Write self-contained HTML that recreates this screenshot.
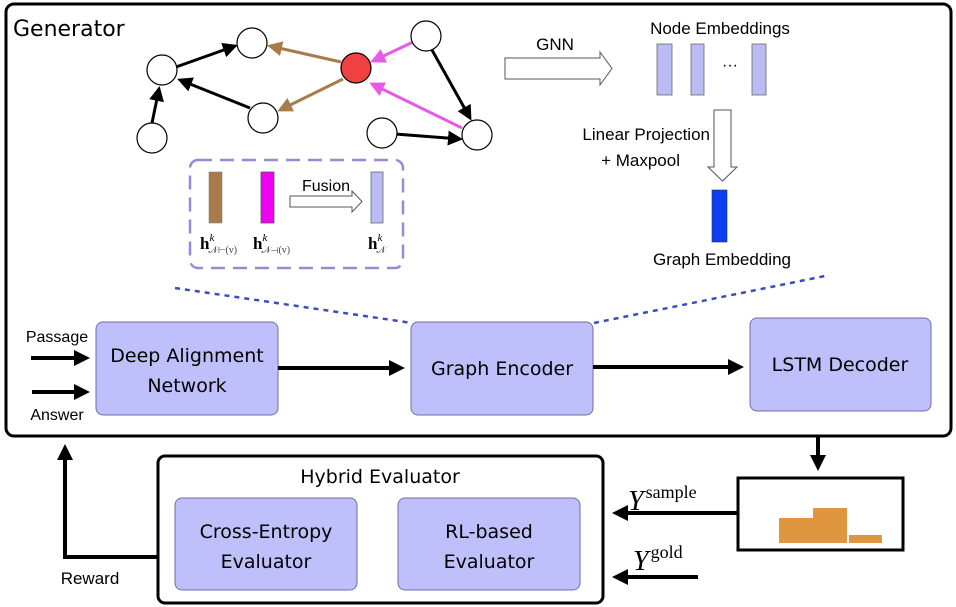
<!DOCTYPE html>
<html><head><meta charset="utf-8"><style>
html,body{margin:0;padding:0;background:#fff;}
svg{display:block;}
.s{font-family:"Liberation Sans",sans-serif;}
.m{font-family:"DejaVu Sans","Liberation Sans",sans-serif;}
.t{font-family:"Liberation Serif",serif;}
</style></head><body>
<svg width="956" height="607" viewBox="0 0 956 607" xmlns="http://www.w3.org/2000/svg">
<defs>
<marker id="ab" markerWidth="4" markerHeight="4" refX="3" refY="2" orient="auto" markerUnits="strokeWidth"><path d="M0,0 L4,2 L0,4 z" fill="#000"/></marker>
<marker id="ak" markerWidth="5" markerHeight="5" refX="4" refY="2.5" orient="auto"><path d="M0,0 L5,2.5 L0,5 z" fill="#000"/></marker>
<marker id="abr" markerWidth="5" markerHeight="5" refX="4" refY="2.5" orient="auto"><path d="M0,0 L5,2.5 L0,5 z" fill="#a87c4a"/></marker>
<marker id="amg" markerWidth="5" markerHeight="5" refX="4" refY="2.5" orient="auto"><path d="M0,0 L5,2.5 L0,5 z" fill="#e75ae8"/></marker>
</defs>
<rect x="6" y="4" width="945" height="432" rx="8" fill="none" stroke="#000" stroke-width="3"/>
<text x="13" y="36" class="m" font-size="22">Generator</text>
<g stroke-width="3" fill="none">
<line x1="152" y1="123" x2="159" y2="89" stroke="#000" marker-end="url(#ak)"/>
<line x1="176" y1="67" x2="235" y2="46" stroke="#000" marker-end="url(#ak)"/>
<line x1="250" y1="108" x2="180" y2="80" stroke="#000" marker-end="url(#ak)"/>
<line x1="341" y1="62" x2="270" y2="46" stroke="#a87c4a" marker-end="url(#abr)"/>
<line x1="343" y1="79" x2="280" y2="110" stroke="#a87c4a" marker-end="url(#abr)"/>
<line x1="413" y1="42" x2="373" y2="61" stroke="#e75ae8" marker-end="url(#amg)"/>
<line x1="462" y1="128" x2="372" y2="84" stroke="#e75ae8" marker-end="url(#amg)"/>
<line x1="432" y1="50" x2="470" y2="118" stroke="#000" marker-end="url(#ak)"/>
<line x1="395" y1="134" x2="460" y2="139" stroke="#000" marker-end="url(#ak)"/>
</g>
<g stroke="#000" stroke-width="1.2" fill="#fff">
<circle cx="162" cy="70" r="15"/>
<circle cx="252" cy="43" r="15"/>
<circle cx="356" cy="68" r="15" fill="#f04040"/>
<circle cx="426" cy="36" r="15"/>
<circle cx="263" cy="118" r="15"/>
<circle cx="152" cy="138" r="15"/>
<circle cx="382" cy="133" r="15"/>
<circle cx="477" cy="135" r="15"/>
</g>
<rect x="190" y="160" width="213" height="108" rx="8" fill="none" stroke="#9b87d6" stroke-width="2.5" stroke-dasharray="14,8"/>
<rect x="209" y="172" width="13" height="51" fill="#a87c4a" stroke="#777" stroke-width="0.5"/>
<rect x="261" y="172" width="13" height="51" fill="#f000f0" stroke="#555" stroke-width="0.8"/>
<rect x="371" y="172" width="12" height="51" fill="#bcbcf5" stroke="#666" stroke-width="0.8"/>
<path d="M290,196 L352,196 L352,191 L362,201.5 L352,212 L352,207 L290,207 z" fill="#fff" stroke="#555" stroke-width="1"/>
<text x="326" y="191" class="s" font-size="16" text-anchor="middle">Fusion</text>
<text x="200" y="249" class="t" font-size="17" font-weight="bold">h<tspan font-size="11" dy="-8" font-style="italic" font-weight="normal">k</tspan><tspan font-size="10" dx="-6" dy="12" font-weight="normal" fill="#444">𝒩⊢(v)</tspan></text>
<text x="253" y="249" class="t" font-size="17" font-weight="bold">h<tspan font-size="11" dy="-8" font-style="italic" font-weight="normal">k</tspan><tspan font-size="10" dx="-6" dy="12" font-weight="normal" fill="#444">𝒩⊣(v)</tspan></text>
<text x="368" y="249" class="t" font-size="17" font-weight="bold">h<tspan font-size="11" dy="-8" font-style="italic" font-weight="normal">k</tspan><tspan font-size="10" dx="-6" dy="12" font-weight="normal" fill="#444">𝒩</tspan></text>
<text x="555" y="50" class="s" font-size="17" text-anchor="middle">GNN</text>
<path d="M505,58 L600,58 L600,52 L612,68.5 L600,85 L600,79 L505,79 z" fill="#fff" stroke="#555" stroke-width="1"/>
<text x="720" y="34" class="s" font-size="17" text-anchor="middle">Node Embeddings</text>
<rect x="657" y="44" width="15" height="51" fill="#bcbcf5" stroke="#666" stroke-width="0.8"/>
<rect x="691" y="44" width="13" height="51" fill="#bcbcf5" stroke="#666" stroke-width="0.8"/>
<rect x="752" y="44" width="14" height="51" fill="#bcbcf5" stroke="#666" stroke-width="0.8"/>
<text x="730" y="70" class="s" font-size="16" text-anchor="middle">···</text>
<path d="M714,110 L731,110 L731,167 L737,167 L722.5,181 L708,167 L714,167 z" fill="#fff" stroke="#555" stroke-width="1"/>
<text x="710" y="140" class="s" font-size="17" text-anchor="end">Linear Projection</text>
<text x="680" y="166" class="s" font-size="17" text-anchor="end">+ Maxpool</text>
<rect x="712" y="190" width="15" height="52" fill="#0b3ef0" stroke="#333" stroke-width="0.6"/>
<text x="722" y="265" class="s" font-size="17" text-anchor="middle">Graph Embedding</text>
<line x1="175" y1="288" x2="412" y2="323" stroke="#3b4db8" stroke-width="2.5" stroke-dasharray="5,5"/>
<line x1="594" y1="323" x2="825" y2="276" stroke="#3b4db8" stroke-width="2.5" stroke-dasharray="5,5"/>
<g fill="#bfbffb" stroke="#6d6da8" stroke-width="1">
<rect x="96" y="322" width="182" height="93" rx="7"/>
<rect x="411" y="322" width="182" height="93" rx="7"/>
<rect x="750" y="318" width="181" height="93" rx="7"/>
<rect x="175" y="498" width="182" height="92" rx="7"/>
<rect x="398" y="498" width="182" height="92" rx="7"/>
</g>
<g class="m" font-size="19" text-anchor="middle">
<text x="187" y="362">Deep Alignment</text>
<text x="187" y="392">Network</text>
<text x="502" y="375">Graph Encoder</text>
<text x="840" y="371">LSTM Decoder</text>
<text x="266" y="538">Cross-Entropy</text>
<text x="266" y="568">Evaluator</text>
<text x="489" y="538">RL-based</text>
<text x="489" y="568">Evaluator</text>
<text x="380" y="483">Hybrid Evaluator</text>
</g>
<text x="57" y="342" class="s" font-size="16" text-anchor="middle">Passage</text>
<text x="57" y="420" class="s" font-size="16" text-anchor="middle">Answer</text>
<g stroke="#000" stroke-width="4" fill="none">
<line x1="31" y1="358" x2="86" y2="358" marker-end="url(#ab)"/>
<line x1="32" y1="392" x2="86" y2="392" marker-end="url(#ab)"/>
<line x1="278" y1="368" x2="401" y2="368" marker-end="url(#ab)"/>
<line x1="593" y1="367" x2="740" y2="367" marker-end="url(#ab)"/>
<line x1="818" y1="436" x2="818" y2="467" marker-end="url(#ab)"/>
<line x1="738" y1="513" x2="616" y2="513" marker-end="url(#ab)"/>
<line x1="698" y1="577" x2="616" y2="577" marker-end="url(#ab)"/>
<polyline points="157,557 65,557 65,448" marker-end="url(#ab)"/>
</g>
<rect x="158" y="456" width="445" height="147" rx="7" fill="none" stroke="#000" stroke-width="3"/>
<rect x="738" y="478" width="165" height="72" fill="none" stroke="#000" stroke-width="3"/>
<g fill="#e0963f">
<rect x="779" y="518" width="68" height="25"/>
<rect x="813" y="508" width="34" height="35"/>
<rect x="849" y="535" width="33" height="8"/>
</g>
<text x="628" y="510" class="t" font-size="28" font-style="italic">Y<tspan font-style="normal" font-size="18" dy="-12" dx="2">sample</tspan></text>
<text x="633" y="570" class="t" font-size="28" font-style="italic">Y<tspan font-style="normal" font-size="18" dy="-12" dx="2">gold</tspan></text>
<text x="90" y="584" class="s" font-size="17" text-anchor="middle">Reward</text>
</svg>
</body></html>
